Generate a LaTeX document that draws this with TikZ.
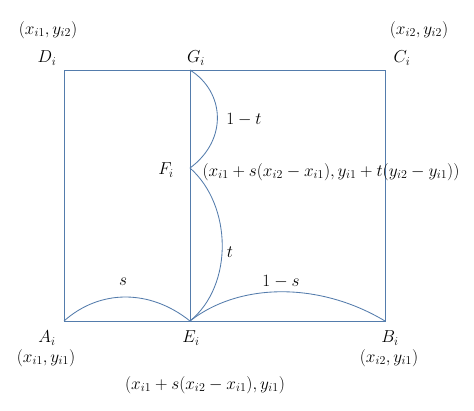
\documentclass[tikz,border=0pt]{standalone}
\usepackage{amsmath}
\definecolor{edgeblue}{RGB}{84,124,172}
\begin{document}
\begin{tikzpicture}[x=1pt,y=-1pt,
  edge/.style={draw=edgeblue,line width=0.85pt},
  lab/.style={inner sep=0pt,font=\fontsize{17.5}{21}\selectfont}]
\useasboundingbox (0,0) rectangle (474,410);
\coordinate (A) at (64,321);
\coordinate (B) at (385,321);
\coordinate (C) at (385,70);
\coordinate (D) at (64,70);
\coordinate (E) at (190,321);
\coordinate (G) at (190,70);
\coordinate (F) at (190,168);
\draw[edge] (A) -- (B) -- (C) -- (D) -- cycle;
\draw[edge] (E) -- (G);
\draw[edge] (G) .. controls (225,92) and (228,140) .. (F);
\draw[edge] (F) .. controls (232,205) and (234,285) .. (E);
\draw[edge] (A) .. controls (100,289) and (150,289) .. (E);
\draw[edge] (E) .. controls (240,282) and (320,282) .. (B);
\node[lab] (pD) at (48,30) {$(x_{i1}, y_{i2})$};
\node[lab] (nD) at (47,58) {$D_i$};
\node[lab] (nG) at (196,58) {$G_i$};
\node[lab] (pC) at (419,30) {$(x_{i2}, y_{i2})$};
\node[lab] (nC) at (402,58) {$C_i$};
\node[lab] (nF) at (166,170) {$F_i$};
\node[lab] (pF) at (331,172) {$(x_{i1} + s(x_{i2} - x_{i1}), y_{i1} + t(y_{i2} - y_{i1}))$};
\node[lab] (l1t) at (244,120) {$1 - t$};
\node[lab] (lt) at (230,252) {$t$};
\node[lab] (ls) at (123,282) {$s$};
\node[lab] (l1s) at (281,282) {$1 - s$};
\node[lab] (nA) at (47,338) {$A_i$};
\node[lab] (pA) at (46,358) {$(x_{i1}, y_{i1})$};
\node[lab] (nE) at (191,338) {$E_i$};
\node[lab] (nB) at (390,338) {$B_i$};
\node[lab] (pB) at (389,358) {$(x_{i2}, y_{i1})$};
\node[lab] (pE) at (205,385) {$(x_{i1} + s(x_{i2} - x_{i1}), y_{i1})$};
\end{tikzpicture}
\end{document}
